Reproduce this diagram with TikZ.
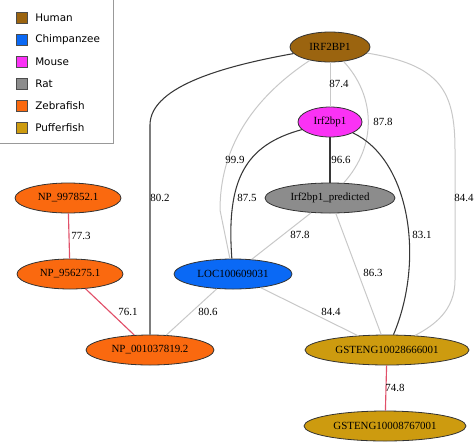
\documentclass[tikz,border=0pt]{standalone}
\usepackage{fontspec}
\setmainfont{Liberation Serif}
\newfontfamily\legendfont{DejaVu Sans}
\usetikzlibrary{shapes.geometric}
\usepackage{xcolor}

\definecolor{human}{RGB}{155,100,15}
\definecolor{chimp}{RGB}{10,105,245}
\definecolor{mouse}{RGB}{250,50,245}
\definecolor{rat}{RGB}{140,140,140}
\definecolor{zebra}{RGB}{250,105,15}
\definecolor{puffer}{RGB}{205,155,15}
\definecolor{lightedge}{RGB}{200,200,200}
\definecolor{darkedge}{RGB}{55,55,55}
\definecolor{redge}{RGB}{225,80,105}

\begin{document}
\begin{tikzpicture}[
    x = 0.75pt, y = -0.75pt,   % one unit = one pixel of the reference
    gene/.style = {
        ellipse, draw = black!80, line width = 0.6pt,
        minimum height = 22.5pt, inner sep = 0pt,
        font = \fontsize{8.2}{9}\selectfont
    },
    elabel/.style = {inner sep = 0pt, font = \fontsize{8.2}{9}\selectfont},
    swatch/.style = {
        rectangle, draw = black!70, line width = 0.5pt,
        minimum size = 7.8pt, inner sep = 0pt
    },
    legtext/.style = {
        anchor = west, inner sep = 0pt,
        font = \legendfont\fontsize{7.8}{9}\selectfont
    },
    faint/.style = {draw = lightedge, line width = 0.75pt},
    strong/.style = {draw = darkedge, line width = 0.8pt},
    fish/.style = {draw = redge, line width = 0.85pt}
]
\useasboundingbox (0,0) rectangle (474,443);

% --- Legend ---
\draw[black!40, line width = 0.6pt] (-1,-1) rectangle (113,143);
\node[swatch, fill = human]  (swHuman)  at (22, 17.8) {};
\node[swatch, fill = chimp]  (swChimp)  at (22, 39.8) {};
\node[swatch, fill = mouse]  (swMouse)  at (22, 61.8) {};
\node[swatch, fill = rat]    (swRat)    at (22, 83.8) {};
\node[swatch, fill = zebra]  (swZebra)  at (22,105.8) {};
\node[swatch, fill = puffer] (swPuffer) at (22,127.8) {};
\node[legtext] (ltHuman)  at (35, 17.8) {Human};
\node[legtext] (ltChimp)  at (35, 39.8) {Chimpanzee};
\node[legtext] (ltMouse)  at (35, 61.8) {Mouse};
\node[legtext] (ltRat)    at (35, 83.8) {Rat};
\node[legtext] (ltZebra)  at (35,105.8) {Zebrafish};
\node[legtext] (ltPuffer) at (35,127.8) {Pufferfish};

% --- Genes ---
\node[gene, fill = human,  minimum width = 60pt]    (hs)   at (330, 47) {IRF2BP1};
\node[gene, fill = mouse,  minimum width = 48pt]    (mm)   at (330,122) {Irf2bp1};
\node[gene, fill = rat,    minimum width = 97.5pt]  (rn)   at (330,198) {Irf2bp1\_predicted};
\node[gene, fill = zebra,  minimum width = 79.5pt]  (drA)  at ( 68,198) {NP\_997852.1};
\node[gene, fill = zebra,  minimum width = 79.5pt]  (drB)  at ( 70,274) {NP\_956275.1};
\node[gene, fill = chimp,  minimum width = 88.5pt]  (pt)   at (233,274) {LOC100609031};
\node[gene, fill = zebra,  minimum width = 96pt]    (drC)  at (150,350) {NP\_001037819.2};
\node[gene, fill = puffer, minimum width = 123pt]   (tnA)  at (387,350) {GSTENG10028666001};
\node[gene, fill = puffer, minimum width = 121.5pt] (tnB)  at (385,426) {GSTENG10008767001};

% --- Links ---
\draw[strong] (hs) .. controls (230,65) and (150,85) .. (150,125) -- (drC);
\draw[faint]  (hs) -- (mm);
\draw[faint]  (hs) .. controls (375,95) and (378,145) .. (rn);
\draw[faint]  (hs) .. controls (250,100) and (220,150) .. (220,210) -- (pt);
\draw[faint]  (hs) .. controls (440,65) and (455,90) .. (455,150) -- (455,280)
                   .. controls (455,310) and (435,325) .. (tnA);
\draw[strong] (mm) -- (rn);
\draw[strong] (mm) .. controls (245,145) and (226,180) .. (pt);
\draw[strong] (mm) .. controls (410,160) and (425,260) .. (tnA);
\draw[faint]  (rn) -- (pt);
\draw[faint]  (rn) -- (tnA);
\draw[faint]  (pt) -- (tnA);
\draw[faint]  (pt) -- (drC);
\draw[fish]   (drA) -- (drB);
\draw[fish]   (drB) -- (drC);
\draw[fish]   (tnA) -- (tnB);

% --- Identity values ---
\node[elabel] (vHsMm)  at (339, 84) {87.4};
\node[elabel] (vHsRn)  at (383,122) {87.8};
\node[elabel] (vHsPt)  at (235,160) {99.9};
\node[elabel] (vMmRn)  at (341,160) {96.6};
\node[elabel] (vMmPt)  at (247,198) {87.5};
\node[elabel] (vHsTn)  at (464,198) {84.4};
\node[elabel] (vHsDr)  at (160,198) {80.2};
\node[elabel] (vDrAB)  at ( 81,236) {77.3};
\node[elabel] (vRnPt)  at (300,235) {87.8};
\node[elabel] (vMmTn)  at (422,235) {83.1};
\node[elabel] (vRnTn)  at (373,273) {86.3};
\node[elabel] (vDrBC)  at (128,312) {76.1};
\node[elabel] (vPtDr)  at (208,312) {80.6};
\node[elabel] (vPtTn)  at (331,312) {84.4};
\node[elabel] (vTnAB)  at (395,388) {74.8};

\end{tikzpicture}
\end{document}
